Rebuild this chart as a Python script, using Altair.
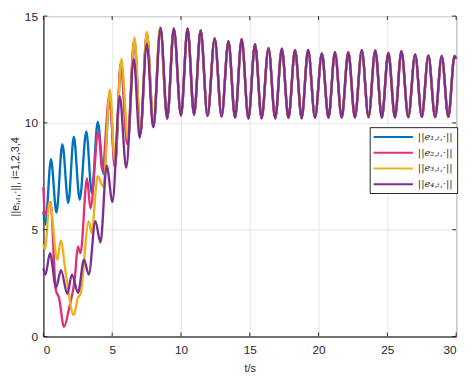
import altair as alt
import pandas as pd

# ---- data (extrema of each oscillating curve) ----
e4_x = [0.0, 0.15, 0.48, 0.92, 1.28, 1.74, 2.07, 2.52, 2.95, 3.3, 3.78, 4.15, 4.6, 5.02,
        5.55, 6.02, 6.57, 7.0, 7.52, 7.98, 8.52, 9.0, 9.48, 10.0, 10.48, 10.95, 11.43,
        11.93, 12.45, 12.95, 13.45, 13.93, 14.41, 14.9, 15.38, 15.86, 16.36, 16.85,
        17.33, 17.81, 18.29, 18.77, 19.24, 19.74, 20.24, 20.72, 21.19, 21.68, 22.16,
        22.64, 23.14, 23.63, 24.12, 24.6, 25.07, 25.55, 26.02, 26.52, 27.02, 27.5,
        27.98, 28.47, 28.95, 29.43, 29.88, 30.0]
e4_y = [3.2, 2.9, 3.9, 2.3, 3.1, 2.0, 2.9, 2.05, 3.6, 2.9, 5.4, 4.4, 8.0, 6.3,
        11.25, 7.9, 13.0, 9.3, 13.7, 9.8, 14.45, 10.2, 14.42, 10.35, 14.42, 10.38, 14.34,
        10.32, 13.96, 10.3, 13.82, 10.25, 13.92, 10.2, 13.69, 10.22, 13.5, 10.22,
        13.48, 10.23, 13.42, 10.22, 13.42, 10.25, 13.25, 10.24, 13.31, 10.25, 13.31,
        10.26, 13.4, 10.27, 13.39, 10.25, 13.28, 10.26, 13.36, 10.27, 13.21, 10.28,
        13.16, 10.27, 13.13, 10.28, 13.13, 13.0]

e1_x = [0.0, 0.15, 0.55, 0.95, 1.38, 1.81, 2.21, 2.64, 3.12, 3.52, 3.95, 4.38, 4.82,
        5.2, 5.65, 6.12, 6.62, 7.05, 7.52, 8.0, 8.5, 9.0]
e1_y = [5.85, 5.25, 8.3, 5.8, 9.0, 6.25, 9.35, 6.4, 9.6, 6.7, 10.05, 7.6, 11.2,
        8.0, 12.8, 9.0, 13.9, 9.5, 14.2, 9.8, 14.45, 10.2]

e2_x = [0.0, 0.12, 0.52, 0.9, 1.14, 1.5, 1.86, 2.3, 2.5, 2.7, 3.17, 3.42, 4.0, 4.28,
        4.8, 5.2, 5.62, 6.1, 6.6, 7.05, 7.52, 8.0, 8.5, 9.0]
e2_y = [7.0, 5.7, 6.3, 2.2, 1.8, 0.45, 1.3, 2.8, 4.2, 3.9, 7.4, 6.0, 9.6, 7.8,
        11.3, 7.9, 12.8, 9.0, 13.9, 9.5, 14.2, 9.8, 14.45, 10.2]

e3_x = [0.0, 0.12, 0.45, 1.02, 1.26, 1.62, 2.21, 2.5, 2.7, 3.3, 3.5, 3.95, 4.36,
        4.83, 5.2, 5.67, 6.15, 6.62, 7.05, 7.52, 8.0, 8.48, 9.0]
e3_y = [4.3, 4.1, 6.3, 3.6, 4.5, 3.0, 1.0, 1.8, 2.0, 5.4, 4.85, 7.5, 7.0,
        11.55, 8.2, 13.0, 9.2, 14.0, 9.6, 14.26, 9.9, 14.48, 10.2]

labels = ["||e\u2081,\u209c,\u00b7||", "||e\u2082,\u209c,\u00b7||",
          "||e\u2083,\u209c,\u00b7||", "||e\u2084,\u209c,\u00b7||"]
colors = ["#0072BD", "#E0307A", "#EDB120", "#7E2F8E"]

x_ticks = [0, 5, 10, 15, 20, 25, 30]
y_ticks = [0, 5, 10, 15]

# after convergence (x > 9) the first three curves run under e4
tail_x = [x for x in e4_x if x > 9.0]
tail_y = [y for x, y in zip(e4_x, e4_y) if x > 9.0]

rows = []
for lab, xs, ys in [(labels[0], e1_x + tail_x, e1_y + tail_y),
                    (labels[1], e2_x + tail_x, e2_y + tail_y),
                    (labels[2], e3_x + tail_x, e3_y + tail_y),
                    (labels[3], e4_x, e4_y)]:
    for i, (x, y) in enumerate(zip(xs, ys)):
        rows.append({"series": lab, "t": x, "v": y, "i": i})
df = pd.DataFrame(rows)

W, H = 420, 326
xs = alt.Scale(domain=[0, 30], nice=False)
ys = alt.Scale(domain=[0, 15], nice=False)

lines = alt.Chart(df).mark_line(strokeWidth=2.4, interpolate="monotone").encode(
    x=alt.X("t:Q", scale=xs,
            axis=alt.Axis(values=x_ticks, title="t/s", titlePadding=8, labelPadding=8,
                          format="d")),
    y=alt.Y("v:Q", scale=ys,
            axis=alt.Axis(values=y_ticks, title="||e\u1d62,\u209c,\u00b7||, i=1,2,3,4",
                          titlePadding=4, labelPadding=6, format="d")),
    color=alt.Color("series:N", scale=alt.Scale(domain=labels, range=colors),
                    legend=alt.Legend(title=None)),
    order="i:Q",
    detail="series:N",
)

xt = pd.DataFrame({"t": x_ticks})
yt = pd.DataFrame({"v": y_ticks})
tick_b = alt.Chart(xt).mark_rule(color="#262626", strokeWidth=1).encode(
    x=alt.X("t:Q", scale=xs), y=alt.value(H), y2=alt.value(H - 4))
tick_t = alt.Chart(xt).mark_rule(color="#262626", strokeWidth=1).encode(
    x=alt.X("t:Q", scale=xs), y=alt.value(0), y2=alt.value(4))
tick_l = alt.Chart(yt).mark_rule(color="#262626", strokeWidth=1).encode(
    y=alt.Y("v:Q", scale=ys), x=alt.value(0), x2=alt.value(4))
tick_r = alt.Chart(yt).mark_rule(color="#262626", strokeWidth=1).encode(
    y=alt.Y("v:Q", scale=ys), x=alt.value(W), x2=alt.value(W - 4))

chart = alt.layer(lines, tick_b, tick_t, tick_l, tick_r).properties(
    width=W, height=H,
    autosize=alt.AutoSizeParams(type="none"),
    padding={"left": 36, "top": 5, "right": 10, "bottom": 40},
).configure_view(
    stroke="#262626", strokeWidth=1
).configure_axis(
    grid=True, gridColor="#E6E6E6", gridWidth=1,
    domainColor="#262626", domainWidth=1, tickSize=0,
    labelFont="Liberation Sans", labelFontSize=12, labelColor="#262626",
    titleFont="Liberation Sans", titleFontSize=11, titleFontWeight="normal",
    titleColor="#262626",
).configure_legend(
    orient="none", legendX=332, legendY=113,
    strokeColor="#262626", fillColor="white", padding=4,
    symbolType="M-4,0H4", symbolSize=100, symbolStrokeWidth=2,
    symbolOffset=14, labelOffset=19, rowPadding=5,
    labelFont="DejaVu Serif", labelFontSize=10, labelFontStyle="italic",
    labelColor="#262626",
)

chart.save("out.html", embed_options={"renderer": "svg", "actions": False})
